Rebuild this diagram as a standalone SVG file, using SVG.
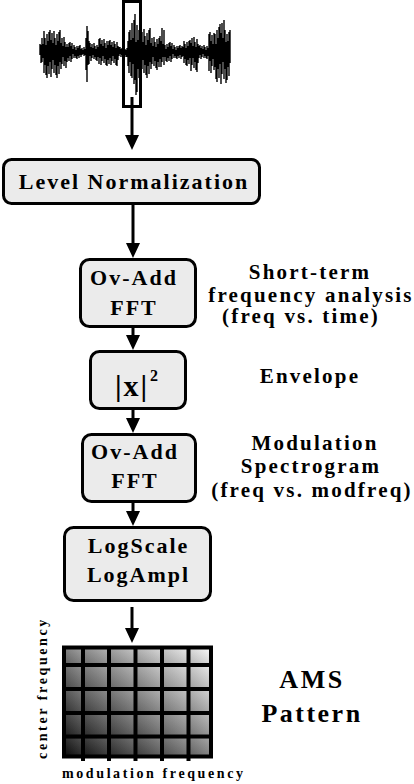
<svg xmlns="http://www.w3.org/2000/svg" width="414" height="784" viewBox="0 0 414 784">
<style>
.t{font-family:"Liberation Serif","Times New Roman",serif;font-weight:bold;fill:#000}
.bt{font-size:22px;letter-spacing:2px;text-anchor:middle}
.lb{font-size:21px;letter-spacing:2.2px;text-anchor:middle}
.big{font-size:26px;letter-spacing:2.5px;text-anchor:middle}
.ax{font-size:14px;letter-spacing:2.6px}
.box{fill:#ebebeb;stroke:#000;stroke-width:3}
.con{stroke:#000;stroke-width:3;fill:none;marker-end:url(#ah)}
.gl{stroke:#000;stroke-width:4}
.cell{fill:url(#cg)}
</style>
<defs>
<marker id="ah" markerUnits="userSpaceOnUse" markerWidth="15" markerHeight="14" refX="9" refY="7" orient="auto">
<path d="M0,0 L15,7 L0,14 z" fill="#000"/>
</marker>
<linearGradient id="gg" x1="0" y1="1" x2="1" y2="0">
<stop offset="0" stop-color="#0a0a0a"/>
<stop offset="1" stop-color="#fafafa"/>
</linearGradient>
<linearGradient id="cg" x1="0" y1="1" x2="1" y2="0">
<stop offset="0" stop-color="#000" stop-opacity="0.14"/>
<stop offset="1" stop-color="#fff" stop-opacity="0.14"/>
</linearGradient>
</defs>
<rect width="414" height="784" fill="#fff"/>

<g id="waveform">
<rect x="40" y="50" width="190" height="4" fill="#000"/>
<path stroke="#000" stroke-width="1.4" fill="none" d="M40,44V55 M41,45V63 M42,38V62 M43,44V58 M44,31V73 M45,38V65 M46,45V75 M47,34V78 M48,41V66 M49,32V74 M50,30V62 M51,40V77 M52,33V69 M53,43V60 M54,31V73 M55,38V65 M56,45V75 M57,34V78 M58,41V66 M59,32V74 M60,30V62 M61,43V69 M62,38V64 M63,46V57 M64,37V66 M65,42V61 M66,47V68 M67,44V62 M68,47V58 M69,43V61 M70,42V56 M71,46V62 M72,43V59 M73,49V54 M74,45V58 M75,47V56 M76,50V58 M77,46V59 M78,48V56 M79,46V58 M80,45V55 M81,49V57 M82,48V55 M83,50V54 M84,47V56 M85,49V55 M86,38V70 M87,26V82 M88,31V65 M89,41V64 M90,43V56 M91,47V61 M92,44V58 M93,48V55 M94,43V59 M95,46V57 M96,49V60 M97,45V61 M98,47V57 M99,39V64 M100,38V58 M101,44V65 M102,40V61 M103,46V56 M104,39V63 M105,43V59 M106,48V65 M107,41V66 M108,45V60 M109,41V64 M110,40V58 M111,45V65 M112,42V61 M113,47V56 M114,41V63 M115,44V59 M116,48V65 M117,42V66 M118,46V60 M119,47V56 M120,47V54 M121,49V57 M122,48V55 M123,50V54 M124,47V56 M125,49V55 M126,50V57 M127,48V57 M128,41V66 M129,32V73 M130,30V62 M131,40V76 M132,23V78 M133,38V64 M134,20V84 M135,14V80 M136,42V95 M137,25V92 M138,40V69 M139,30V78 M140,28V64 M141,39V81 M142,32V69 M143,42V60 M144,29V73 M145,36V65 M146,45V75 M147,33V78 M148,40V66 M149,30V74 M150,28V62 M151,43V69 M152,38V64 M153,46V57 M154,37V66 M155,42V61 M156,47V68 M157,39V70 M158,44V62 M159,38V67 M160,36V59 M161,41V67 M162,28V62 M163,44V57 M164,30V65 M165,45V57 M166,49V61 M167,44V62 M168,47V58 M169,43V61 M170,42V56 M171,46V62 M172,43V59 M173,49V54 M174,45V58 M175,47V56 M176,50V58 M177,46V59 M178,48V56 M179,46V58 M180,45V55 M181,48V59 M182,46V57 M183,47V56 M184,41V63 M185,44V59 M186,48V65 M187,42V66 M188,46V60 M189,41V64 M190,40V58 M191,43V71 M192,38V65 M193,46V58 M194,37V68 M195,42V62 M196,47V70 M197,39V72 M198,44V63 M199,46V58 M200,45V55 M201,48V59 M202,46V57 M203,49V54 M204,45V58 M205,47V56 M206,50V58 M207,46V59 M208,48V56 M209,34V71 M210,32V61 M211,41V73 M212,35V66 M213,44V59 M214,33V70 M215,34V67 M216,44V79 M217,30V82 M218,38V69 M219,27V78 M220,24V64 M221,33V84 M222,23V74 M223,38V62 M224,20V79 M225,30V69 M226,42V83 M227,34V80 M228,41V67 M229,32V76 M230,30V63"/>
<rect x="123.5" y="1.5" width="17" height="105" fill="none" stroke="#000" stroke-width="3"/>
</g>

<g id="n-level">
<rect class="box" x="3.5" y="159.5" width="256" height="44" rx="8"/>
<text class="t bt" x="134" y="189">Level Normalization</text>
</g>

<g id="n-fft1">
<rect class="box" x="80.5" y="259.5" width="115" height="67" rx="9"/>
<text class="t bt" x="134" y="285">Ov-Add</text>
<text class="t bt" x="134" y="315">FFT</text>
</g>

<g id="n-abs">
<rect class="box" x="90.5" y="351.5" width="95" height="57" rx="9"/>
<text class="t" x="115" y="396" font-size="30" letter-spacing="2">|x|<tspan x="150" y="381" font-size="16">2</tspan></text>
</g>

<g id="n-fft2">
<rect class="box" x="82.5" y="434.5" width="113" height="67" rx="9"/>
<text class="t bt" x="135" y="459">Ov-Add</text>
<text class="t bt" x="135" y="488">FFT</text>
</g>

<g id="n-log">
<rect class="box" x="64.5" y="527.5" width="146" height="73" rx="9"/>
<text class="t bt" x="138.5" y="553">LogScale</text>
<text class="t bt" x="138.5" y="582">LogAmpl</text>
</g>

<g id="n-ams">
<rect x="62" y="646" width="151" height="112" fill="url(#gg)"/>
<g class="cell">
<rect x="66" y="649.5" width="15" height="13.5"/><rect x="85" y="649.5" width="22" height="13.5"/><rect x="111" y="649.5" width="22.5" height="13.5"/><rect x="137.5" y="649.5" width="22.5" height="13.5"/><rect x="164" y="649.5" width="22.5" height="13.5"/><rect x="190.5" y="649.5" width="18.5" height="13.5"/>
<rect x="66" y="667" width="15" height="20"/><rect x="85" y="667" width="22" height="20"/><rect x="111" y="667" width="22.5" height="20"/><rect x="137.5" y="667" width="22.5" height="20"/><rect x="164" y="667" width="22.5" height="20"/><rect x="190.5" y="667" width="18.5" height="20"/>
<rect x="66" y="691" width="15" height="20"/><rect x="85" y="691" width="22" height="20"/><rect x="111" y="691" width="22.5" height="20"/><rect x="137.5" y="691" width="22.5" height="20"/><rect x="164" y="691" width="22.5" height="20"/><rect x="190.5" y="691" width="18.5" height="20"/>
<rect x="66" y="715" width="15" height="19.5"/><rect x="85" y="715" width="22" height="19.5"/><rect x="111" y="715" width="22.5" height="19.5"/><rect x="137.5" y="715" width="22.5" height="19.5"/><rect x="164" y="715" width="22.5" height="19.5"/><rect x="190.5" y="715" width="18.5" height="19.5"/>
<rect x="66" y="738.5" width="15" height="16"/><rect x="85" y="738.5" width="22" height="16"/><rect x="111" y="738.5" width="22.5" height="16"/><rect x="137.5" y="738.5" width="22.5" height="16"/><rect x="164" y="738.5" width="22.5" height="16"/><rect x="190.5" y="738.5" width="18.5" height="16"/>
</g>
<g class="gl">
<line x1="64" y1="646" x2="64" y2="758"/><line x1="83" y1="646" x2="83" y2="761"/><line x1="109" y1="646" x2="109" y2="761"/><line x1="135.5" y1="646" x2="135.5" y2="761"/><line x1="162" y1="646" x2="162" y2="761"/><line x1="188.5" y1="646" x2="188.5" y2="761"/><line x1="211" y1="646" x2="211" y2="758"/>
<line x1="62" y1="647.5" x2="213" y2="647.5"/><line x1="62" y1="665" x2="213" y2="665"/><line x1="62" y1="689" x2="213" y2="689"/><line x1="62" y1="713" x2="213" y2="713"/><line x1="62" y1="736.5" x2="213" y2="736.5"/><line x1="62" y1="756.5" x2="213" y2="756.5"/>
</g>
<text class="t ax" transform="translate(47,688) rotate(-90)" text-anchor="middle">center frequency</text>
<text class="t ax" x="62" y="778">modulation frequency</text>
</g>

<g id="labels">
<text class="t lb" x="310" y="279">Short-term</text>
<text class="t lb" x="311" y="302">frequency analysis</text>
<text class="t lb" x="301" y="323">(freq vs. time)</text>
<text class="t lb" x="310" y="383">Envelope</text>
<text class="t lb" x="315" y="450">Modulation</text>
<text class="t lb" x="311" y="473">Spectrogram</text>
<text class="t lb" x="312" y="497">(freq vs. modfreq)</text>
<text class="t big" x="312" y="688">AMS</text>
<text class="t big" x="312" y="722">Pattern</text>
</g>

<g id="connectors">
<line class="con" x1="132" y1="97" x2="132" y2="144"/>
<line class="con" x1="133" y1="205" x2="133" y2="252"/>
<line class="con" x1="133" y1="328" x2="133" y2="344"/>
<line class="con" x1="133" y1="410" x2="133" y2="427"/>
<line class="con" x1="133" y1="503" x2="133" y2="520"/>
<line class="con" x1="132" y1="607" x2="132" y2="637"/>
</g>
</svg>
